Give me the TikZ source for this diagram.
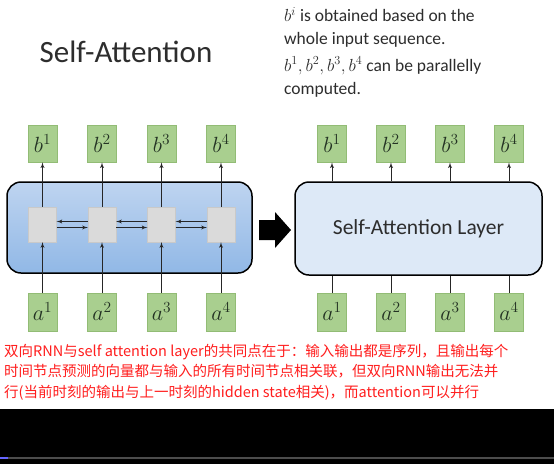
\RequirePackage{fix-cm}
\documentclass[tikz,border=0pt]{standalone}
\usepackage{fontspec}
\setmainfont{Carlito}
\newfontfamily\cjk{Noto Sans CJK SC}
\usetikzlibrary{positioning}
\usetikzlibrary{arrows}
\usetikzlibrary{shapes}

\definecolor{boxgreen}{RGB}{169,207,143}
\definecolor{boxgreenline}{RGB}{146,188,117}
\definecolor{cellgray}{RGB}{218,218,218}
\definecolor{rnnlight}{RGB}{190,212,240}
\definecolor{rnndark}{RGB}{145,184,230}
\definecolor{layerblue}{RGB}{221,233,247}
\definecolor{notered}{RGB}{255,30,30}
\definecolor{titlegray}{RGB}{45,45,45}
\definecolor{veclabel}{RGB}{35,50,35}

\begin{document}
\begin{tikzpicture} [
    x=1pt, y=-1pt,                  % pixel-like units, y pointing down
    node distance=59.5pt and 59.5pt, % spacing of the vector boxes
    ]
% -------------------------------------------------
\tikzset{
  vec/.style={draw=boxgreenline, fill=boxgreen, on grid, text=veclabel, minimum width=29pt, minimum height=37.5pt, inner sep=0pt, font=\fontsize{22}{22}\selectfont},
  cell/.style={draw=cellgray!92!black, fill=cellgray, on grid, minimum width=28pt, minimum height=35pt},
  block/.style={draw, line width=1.5pt, rounded corners=14pt},
  note/.style={align=left, inner sep=0pt, text=titlegray, font=\fontsize{17.5}{23}\selectfont},
  line/.style={draw, color=black!85, line width=0.9pt, -latex'},
  link/.style={draw, color=black!85, line width=0.9pt},
}

    \useasboundingbox (0,0) rectangle (554,464);
    \fill[white] (0,0) rectangle (554,409);                          % slide
    \fill[black] (0,409) rectangle (554,464);                        % player bar
    \draw[black!70, line width=1.5pt] (0,458) -- (554,458);          % progress line
    \draw[blue!60, line width=1.5pt] (0,458) -- (8,458);

    \node [font=\fontsize{31}{31}\selectfont, text=titlegray] (title) at (126,52) {Self-Attention};
    \node [note, anchor=north west] (note1) at (284,7) {$b^i$ is obtained based on the\\ whole input sequence.};
    \node [note, below=9pt of note1.south west, anchor=north west] (note2) {$b^1, b^2, b^3, b^4$ can be parallelly\\ computed.};

    % bidirectional RNN
    \node [block, top color=rnnlight, bottom color=rnndark, minimum width=245pt, minimum height=91pt] (rnn) at (129.5,227.5) {};

    \node [vec] (b1) at (42.5,143.5) {$b^1$};
    \node [vec, right=of b1] (b2) {$b^2$};
    \node [vec, right=of b2] (b3) {$b^3$};
    \node [vec, right=of b3] (b4) {$b^4$};

    \node [cell, below=81pt of b1] (h1) {};
    \node [cell, right=of h1] (h2) {};
    \node [cell, right=of h2] (h3) {};
    \node [cell, right=of h3] (h4) {};

    \node [vec, below=87.5pt of h1] (a1) {$a^1$};
    \node [vec, right=of a1] (a2) {$a^2$};
    \node [vec, right=of a2] (a3) {$a^3$};
    \node [vec, right=of a3] (a4) {$a^4$};

    \path [line] (a1) -- (h1);
    \path [line] (a2) -- (h2);
    \path [line] (a3) -- (h3);
    \path [line] (a4) -- (h4);

    \path [line] (h1) -- (b1);
    \path [line] (h2) -- (b2);
    \path [line] (h3) -- (b3);
    \path [line] (h4) -- (b4);

    \path [line] ([yshift=3pt]h2.west) -- ([yshift=3pt]h1.east);
    \path [line] ([yshift=-3pt]h1.east) -- ([yshift=-3pt]h2.west);
    \path [line] ([yshift=3pt]h3.west) -- ([yshift=3pt]h2.east);
    \path [line] ([yshift=-3pt]h2.east) -- ([yshift=-3pt]h3.west);
    \path [line] ([yshift=3pt]h4.west) -- ([yshift=3pt]h3.east);
    \path [line] ([yshift=-3pt]h3.east) -- ([yshift=-3pt]h4.west);

    % big arrow
    \fill[black] (259,220) -- (275,220) -- (275,212) -- (291,230) -- (275,248) -- (275,240) -- (259,240) -- cycle;

    % self-attention layer
    \node [block, fill=layerblue, minimum width=247pt, minimum height=93pt, font=\fontsize{21.5}{21.5}\selectfont, text=titlegray] (sal) at (418.5,228.5) {Self-Attention Layer};

    \node [vec] (b5) at (332,143.5) {$b^1$};
    \node [vec, right=59pt of b5] (b6) {$b^2$};
    \node [vec, right=59pt of b6] (b7) {$b^3$};
    \node [vec, right=59pt of b7] (b8) {$b^4$};

    \node [vec, below=168.5pt of b5] (a5) {$a^1$};
    \node [vec, right=59pt of a5] (a6) {$a^2$};
    \node [vec, right=59pt of a6] (a7) {$a^3$};
    \node [vec, right=59pt of a7] (a8) {$a^4$};

    \path [line] (sal.north -| b5) -- (b5);
    \path [line] (sal.north -| b6) -- (b6);
    \path [line] (sal.north -| b7) -- (b7);
    \path [line] (sal.north -| b8) -- (b8);

    \path [link] (a5) -- (a5 |- sal.south);
    \path [link] (a6) -- (a6 |- sal.south);
    \path [link] (a7) -- (a7 |- sal.south);
    \path [link] (a8) -- (a8 |- sal.south);

    \node [anchor=north west, align=left, inner sep=0pt, text=notered, font=\cjk\fontsize{14.5}{20.5}\selectfont] (remark) at (4,344) {双向RNN与self attention layer的共同点在于：输入输出都是序列，且输出每个\\ 时间节点预测的向量都与输入的所有时间节点相关联，但双向RNN输出无法并\\ 行(当前时刻的输出与上一时刻的hidden state相关)，而attention可以并行};

\end{tikzpicture}
\end{document}
